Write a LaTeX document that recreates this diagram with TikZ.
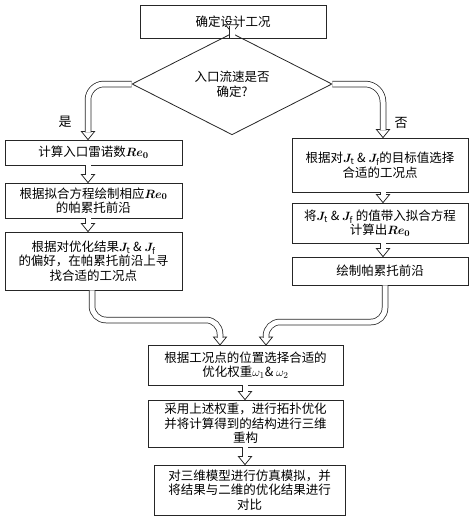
\documentclass[tikz,border=0pt]{standalone}
\usepackage{bm}
\usepackage{fontspec}
\setmainfont{Noto Sans CJK SC}
\usetikzlibrary{shapes.geometric,calc}
\newcommand{\Rez}{$\bm{Re}_{\bm{0}}$}
\newcommand{\JtJf}{$\bm{J}_{\mathrm{t}}$ \& $\bm{J}_{\mathrm{f}}$}
\begin{document}
\begin{tikzpicture}[x=1pt,y=-1pt,
  box/.style={draw=black!85, line width=0.8pt, rectangle, inner sep=1pt, align=center,
    font=\fontsize{12.5pt}{14.5pt}\selectfont},
  dec/.style={draw=black!85, line width=0.8pt, diamond, inner sep=0pt, align=center,
    font=\fontsize{12.5pt}{15pt}\selectfont},
  pipe/.style={draw=black!85, line width=0.75pt, double=white, double distance=5pt},
  lbl/.style={font=\fontsize{13pt}{15pt}\selectfont},
  head/.pic={\filldraw[fill=white, draw=black!85, line width=0.75pt, line join=miter]
    (-6.5,-8)--(0,0)--(6.5,-8)--cycle;}
]
\useasboundingbox (0,0) rectangle (474,520);

% nodes
\node[box, minimum width=186pt, minimum height=33pt] (S) at (233,21.5) {确定设计工况};
\node[dec, minimum width=200pt, minimum height=68pt] (D) at (232,84) {入口流速是否\\确定?};

\node[box, minimum width=177pt, minimum height=25pt] (L1) at (93.5,152.5) {计算入口雷诺数\Rez};
\node[box, minimum width=177pt, minimum height=35pt] (L2) at (93.5,200.5) {根据拟合方程绘制相应\Rez\\的帕累托前沿};
\node[box, minimum width=177pt, minimum height=58pt] (L3) at (93.5,261) {根据对优化结果\JtJf\\的偏好，在帕累托前沿上寻\\找合适的工况点};

\node[box, minimum width=176pt, minimum height=54pt] (R1) at (380,165) {根据对\JtJf 的目标值选择\\合适的工况点};
\node[box, minimum width=176pt, minimum height=40pt] (R2) at (380,223) {将\JtJf\ 的值带入拟合方程\\计算出\Rez};
\node[box, minimum width=176pt, minimum height=28pt] (R3) at (380,271) {绘制帕累托前沿};

\node[box, minimum width=195pt, minimum height=40pt] (B1) at (245.5,365) {根据工况点的位置选择合适的\\优化权重$\omega_1$\& $\omega_2$};
\node[box, minimum width=195pt, minimum height=47pt] (B2) at (245.5,423.5) {采用上述权重，进行拓扑优化\\并将计算得到的结构进行三维\\重构};
\node[box, minimum width=191pt, minimum height=50pt] (B3) at (249.5,490) {对三维模型进行仿真模拟，并\\将结果与二维的优化结果进行\\对比};

\node[lbl] (yes) at (65,122) {是};
\node[lbl] (no) at (401,123) {否};

% column coordinates
\coordinate (cl) at (88,0);
\coordinate (cr) at (383,0);
\coordinate (cb) at (245,0);
\coordinate (ml) at (92,0);
\coordinate (mr) at (385,0);
\coordinate (tB1) at (220,345);
\coordinate (tB2) at (266,345);

% heads
\pic at (D.north) {head};
\pic at (L1.north -| cl) {head};
\pic at (L2.north -| cl) {head};
\pic at (L3.north -| cl) {head};
\pic at (R1.north -| cr) {head};
\pic at (R2.north -| cr) {head};
\pic at (R3.north -| cr) {head};
\pic at (tB1) {head};
\pic at (tB2) {head};
\pic at (B2.north -| cb) {head};
\pic at (B3.north -| cb) {head};

% pipes
\draw[pipe] (S.south -| D.north) -- ($(D.north)+(0,-7.2)$);
\draw[pipe, rounded corners=16pt] (D.west) -| ($(L1.north -| cl)+(0,-7.2)$);
\draw[pipe, rounded corners=18pt] (D.east) -| ($(R1.north -| cr)+(0,-7.2)$);
\draw[pipe] (L1.south -| cl) -- ($(L2.north -| cl)+(0,-7.2)$);
\draw[pipe] (L2.south -| cl) -- ($(L3.north -| cl)+(0,-7.2)$);
\draw[pipe] (R1.south -| cr) -- ($(R2.north -| cr)+(0,-7.2)$);
\draw[pipe] (R2.south -| cr) -- ($(R3.north -| cr)+(0,-7.2)$);
\draw[pipe, rounded corners=14pt] (L3.south -| ml) -- (92,320) -- (220,320) -- ($(tB1)+(0,-7.2)$);
\draw[pipe, rounded corners=14pt] (R3.south -| mr) -- (385,322) -- (266,322) -- ($(tB2)+(0,-7.2)$);
\draw[pipe] (B1.south -| cb) -- ($(B2.north -| cb)+(0,-7.2)$);
\draw[pipe] (B2.south -| cb) -- ($(B3.north -| cb)+(0,-7.2)$);
\end{tikzpicture}
\end{document}
